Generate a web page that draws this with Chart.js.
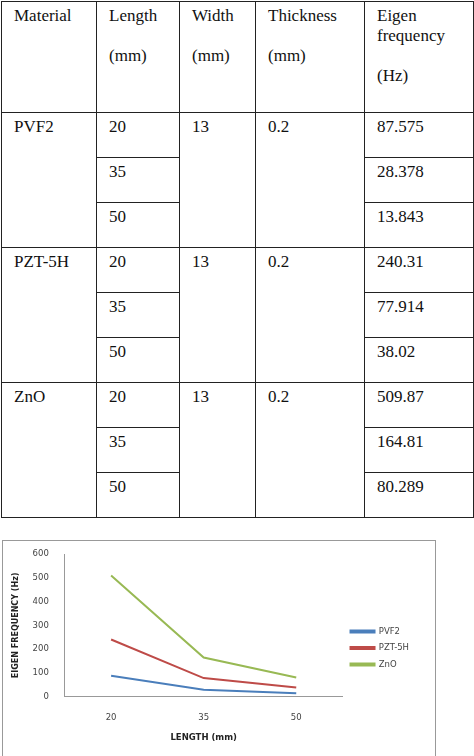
<!DOCTYPE html>
<html>
<head>
<meta charset="utf-8">
<script src="https://cdn.jsdelivr.net/npm/chart.js@4/dist/chart.umd.min.js"></script>
<style>
  body { margin: 0; background: #fff; width: 474px; height: 756px; overflow: hidden; position: relative; }
  table { position: absolute; left: 1px; top: 1px; border-collapse: collapse; font-family: "Liberation Serif", "Times New Roman", serif; font-size: 17px; color: #111; }
  td { border: 1.5px solid #222; vertical-align: top; padding: 4px 0 0 12px; box-sizing: border-box; line-height: 20px; }
  td.h { height: 111px; }
  td.r { height: 45px; }
  #box { position: absolute; left: 2px; top: 540px; width: 432px; height: 240px; border: 1px solid #999; }
</style>
</head>
<body>
<table id="tbl"></table>
<div id="box"><canvas id="c"></canvas></div>
<script>
const lengths = ["20", "35", "50"];
const materials = ["PVF2", "PZT-5H", "ZnO"];
const widthMm = "13";
const thicknessMm = "0.2";
const pvf2 = [87.575, 28.378, 13.843];
const pzt5h = [240.31, 77.914, 38.02];
const zno = [509.87, 164.81, 80.289];
const freqLabels = [["87.575", "28.378", "13.843"], ["240.31", "77.914", "38.02"], ["509.87", "164.81", "80.289"]];
const colWidths = [95, 83, 76, 109, 109];

const tbl = document.getElementById("tbl");
let html = `<colgroup>${colWidths.map(w => `<col style="width:${w}px">`).join("")}</colgroup>`;
html += `<tr><td class="h">Material</td><td class="h">Length<br><br>(mm)</td><td class="h">Width<br><br>(mm)</td><td class="h">Thickness<br><br>(mm)</td><td class="h">Eigen<br>frequency<br><br>(Hz)</td></tr>`;
materials.forEach((m, i) => {
  lengths.forEach((l, j) => {
    html += "<tr>";
    if (j === 0) html += `<td rowspan="3">${m}</td>`;
    html += `<td class="r">${l}</td>`;
    if (j === 0) html += `<td rowspan="3">${widthMm}</td><td rowspan="3">${thicknessMm}</td>`;
    html += `<td class="r">${freqLabels[i][j]}</td></tr>`;
  });
});
tbl.innerHTML = html;

const font = { family: "'DejaVu Sans', sans-serif", size: 8.5 };
new Chart(document.getElementById("c"), {
  type: "line",
  data: {
    labels: lengths,
    datasets: [
      { label: "PVF2", data: pvf2, borderColor: "#4a7ebb", backgroundColor: "#4a7ebb" },
      { label: "PZT-5H", data: pzt5h, borderColor: "#be4b48", backgroundColor: "#be4b48" },
      { label: "ZnO", data: zno, borderColor: "#98b954", backgroundColor: "#98b954" }
    ]
  },
  options: {
    animation: false,
    responsive: true,
    maintainAspectRatio: false,
    elements: { line: { borderWidth: 2, tension: 0 }, point: { radius: 0 } },
    layout: { padding: { left: 4, top: 8, bottom: 34, right: 16 } },
    plugins: {
      legend: {
        position: "right",
        labels: { boxWidth: 24, boxHeight: 2, color: "#444", font: font, padding: 8 }
      },
      tooltip: { enabled: false }
    },
    scales: {
      x: {
        offset: true,
        grid: { display: false },
        border: { color: "#999" },
        ticks: { color: "#444", font: font, padding: 8 },
        title: { display: true, text: "LENGTH (mm)", color: "#222", font: { ...font, weight: "bold" }, padding: { top: 2 } }
      },
      y: {
        min: 0, max: 600,
        grid: { display: false },
        border: { color: "#999" },
        ticks: { stepSize: 100, color: "#444", font: font, padding: 8 },
        title: { display: true, text: "EIGEN FREQUENCY (Hz)", color: "#222", font: { ...font, weight: "bold", size: 8 } }
      }
    }
  }
});
</script>
</body>
</html>
